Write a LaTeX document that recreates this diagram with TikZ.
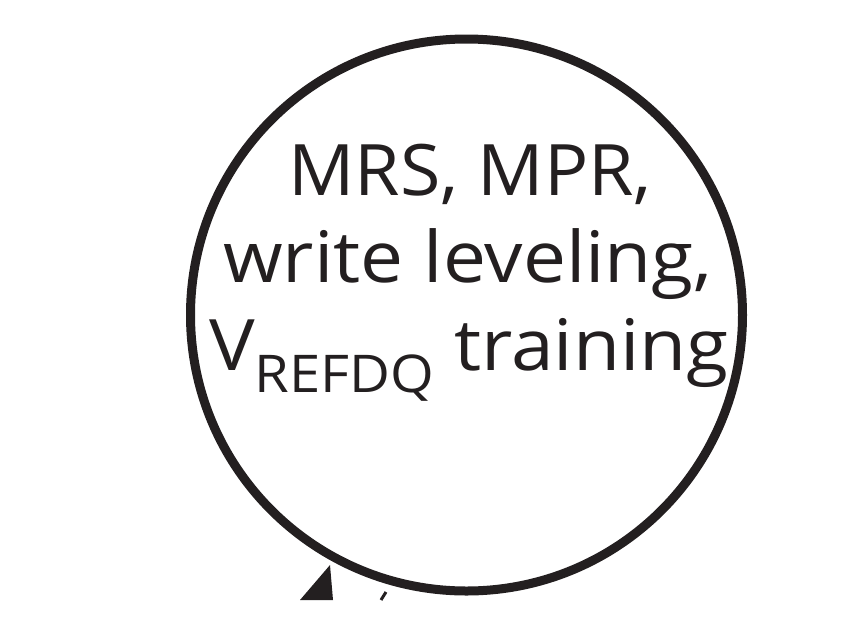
\documentclass[tikz,border=0pt]{standalone}
\usepackage{fontspec}
\setmainfont{Open Sans}
\definecolor{ink}{HTML}{231F20}
\tikzset{
  bubble/.style={circle, draw=ink, line width=9pt, minimum size=552pt, inner sep=0pt},
  txt/.style={anchor=base, text=ink, inner sep=0pt, xscale=1.08, transform shape, font=\fontsize{71}{87}\selectfont},
}
\begin{document}
\begin{tikzpicture}[x=1pt,y=-1pt]
\useasboundingbox (0,0) rectangle (844,622);
\node[bubble] (c) at (466.5,315) {};
\node[txt, xscale=0.96] (l1) at (470,195) {MRS, MPR,};
\node[txt] (l2) at (468,282) {write leveling,};
\node[txt] (l3) at (469,370) {V\raisebox{-22pt}{\fontsize{52}{52}\selectfont REFDQ} training};
% arrow fragments cut by the lower edge of the crop
\coordinate (tip) at (330,565);
\fill[ink] (tip) -- (300,600) -- (333,600) -- cycle;
\coordinate (s1) at (381,600);
\coordinate (s2) at (386,592);
\draw[ink, line width=3pt] (s1) -- (s2);
\end{tikzpicture}
\end{document}
